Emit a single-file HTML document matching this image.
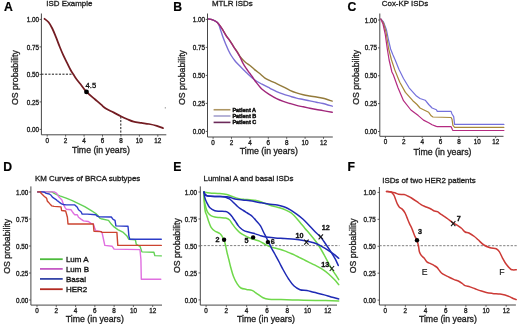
<!DOCTYPE html><html><head><meta charset="utf-8"><style>html,body{margin:0;padding:0;background:#fff;}svg{display:block;will-change:transform;}text{font-family:"Liberation Sans", sans-serif;}</style></head><body>
<svg width="520" height="324" viewBox="0 0 520 324">
<rect width="520" height="324" fill="#fff"/>
<text x="4.10" y="10.60" font-size="12.20" text-anchor="start" font-weight="bold" fill="#000" stroke="#000" stroke-width="0.20" >A</text>
<text x="46.30" y="6.10" font-size="7.90" text-anchor="start" font-weight="normal" fill="#222" stroke="#222" stroke-width="0.32" >ISD Example</text>
<path d="M41.40 13.50 V134.80 H166.30" fill="none" stroke="#474747" stroke-width="1"/>
<line x1="39.60" y1="19.40" x2="41.40" y2="19.40" stroke="#474747" stroke-width="0.9"/>
<text x="39.00" y="22.00" font-size="6.30" text-anchor="end" font-weight="normal" fill="#222" stroke="#222" stroke-width="0.32" >1.00</text>
<line x1="39.60" y1="46.90" x2="41.40" y2="46.90" stroke="#474747" stroke-width="0.9"/>
<text x="39.00" y="49.50" font-size="6.30" text-anchor="end" font-weight="normal" fill="#222" stroke="#222" stroke-width="0.32" >0.75</text>
<line x1="39.60" y1="74.40" x2="41.40" y2="74.40" stroke="#474747" stroke-width="0.9"/>
<text x="39.00" y="77.00" font-size="6.30" text-anchor="end" font-weight="normal" fill="#222" stroke="#222" stroke-width="0.32" >0.50</text>
<line x1="39.60" y1="101.90" x2="41.40" y2="101.90" stroke="#474747" stroke-width="0.9"/>
<text x="39.00" y="104.50" font-size="6.30" text-anchor="end" font-weight="normal" fill="#222" stroke="#222" stroke-width="0.32" >0.25</text>
<line x1="39.60" y1="129.40" x2="41.40" y2="129.40" stroke="#474747" stroke-width="0.9"/>
<text x="39.00" y="132.00" font-size="6.30" text-anchor="end" font-weight="normal" fill="#222" stroke="#222" stroke-width="0.32" >0.00</text>
<line x1="47.20" y1="134.80" x2="47.20" y2="136.60" stroke="#474747" stroke-width="0.9"/>
<text x="47.20" y="142.70" font-size="6.30" text-anchor="middle" font-weight="normal" fill="#222" stroke="#222" stroke-width="0.32" >0</text>
<line x1="65.63" y1="134.80" x2="65.63" y2="136.60" stroke="#474747" stroke-width="0.9"/>
<text x="65.63" y="142.70" font-size="6.30" text-anchor="middle" font-weight="normal" fill="#222" stroke="#222" stroke-width="0.32" >2</text>
<line x1="84.07" y1="134.80" x2="84.07" y2="136.60" stroke="#474747" stroke-width="0.9"/>
<text x="84.07" y="142.70" font-size="6.30" text-anchor="middle" font-weight="normal" fill="#222" stroke="#222" stroke-width="0.32" >4</text>
<line x1="102.50" y1="134.80" x2="102.50" y2="136.60" stroke="#474747" stroke-width="0.9"/>
<text x="102.50" y="142.70" font-size="6.30" text-anchor="middle" font-weight="normal" fill="#222" stroke="#222" stroke-width="0.32" >6</text>
<line x1="120.93" y1="134.80" x2="120.93" y2="136.60" stroke="#474747" stroke-width="0.9"/>
<text x="120.93" y="142.70" font-size="6.30" text-anchor="middle" font-weight="normal" fill="#222" stroke="#222" stroke-width="0.32" >8</text>
<line x1="139.37" y1="134.80" x2="139.37" y2="136.60" stroke="#474747" stroke-width="0.9"/>
<text x="139.37" y="142.70" font-size="6.30" text-anchor="middle" font-weight="normal" fill="#222" stroke="#222" stroke-width="0.32" >10</text>
<line x1="157.80" y1="134.80" x2="157.80" y2="136.60" stroke="#474747" stroke-width="0.9"/>
<text x="157.80" y="142.70" font-size="6.30" text-anchor="middle" font-weight="normal" fill="#222" stroke="#222" stroke-width="0.32" >12</text>
<text x="100.90" y="152.90" font-size="8.75" text-anchor="middle" font-weight="normal" fill="#222" stroke="#222" stroke-width="0.32" >Time (in years)</text>
<text transform="translate(18.00 77.60) rotate(-90)" font-size="8.75" text-anchor="middle" fill="#222" stroke="#222" stroke-width="0.32">OS probability</text>
<line x1="41.4" y1="74.2" x2="72" y2="74.2" stroke="#111" stroke-width="0.95" stroke-dasharray="2.1 1.4"/>
<line x1="120.8" y1="116.5" x2="120.8" y2="134.8" stroke="#111" stroke-width="0.95" stroke-dasharray="2.1 1.4"/>
<path d="M44.50 18.80 C45.18 19.38 47.30 20.68 48.60 22.30 C49.90 23.92 51.07 26.02 52.30 28.50 C53.53 30.98 54.75 34.12 56.00 37.20 C57.25 40.28 58.55 43.92 59.80 47.00 C61.05 50.08 62.27 53.02 63.50 55.70 C64.73 58.38 65.97 60.63 67.20 63.10 C68.43 65.57 69.88 68.65 70.90 70.50 C71.92 72.35 72.45 72.87 73.30 74.20 C74.15 75.53 74.82 76.87 76.00 78.50 C77.18 80.13 78.65 81.77 80.40 84.00 C82.15 86.23 84.03 89.32 86.50 91.90 C88.97 94.48 92.75 97.37 95.20 99.50 C97.65 101.63 99.43 103.20 101.20 104.70 C102.97 106.20 103.75 107.22 105.80 108.50 C107.85 109.78 111.00 111.10 113.50 112.40 C116.00 113.70 118.48 115.15 120.80 116.30 C123.12 117.45 125.27 118.40 127.40 119.30 C129.53 120.20 131.28 121.10 133.60 121.70 C135.92 122.30 138.73 122.52 141.30 122.90 C143.87 123.28 146.42 123.52 149.00 124.00 C151.58 124.48 154.47 125.12 156.80 125.80 C159.13 126.48 161.97 127.72 163.00 128.10" fill="none" stroke="#731c22" stroke-width="1.75" stroke-linejoin="round" stroke-linecap="round" />
<circle cx="86.5" cy="91.9" r="2.4" fill="#000"/>
<text x="85.60" y="87.90" font-size="7.60" text-anchor="start" font-weight="normal" fill="#111" stroke="#111" stroke-width="0.32" >4.5</text>
<line x1="165.3" y1="107.0" x2="165.3" y2="108.6" stroke="#777" stroke-width="0.7"/>
<text x="173.30" y="10.60" font-size="12.20" text-anchor="start" font-weight="bold" fill="#000" stroke="#000" stroke-width="0.20" >B</text>
<text x="211.90" y="6.20" font-size="7.90" text-anchor="start" font-weight="normal" fill="#222" stroke="#222" stroke-width="0.32" >MTLR ISDs</text>
<path d="M207.50 13.50 V137.00 H332.80" fill="none" stroke="#474747" stroke-width="1"/>
<line x1="205.70" y1="19.40" x2="207.50" y2="19.40" stroke="#474747" stroke-width="0.9"/>
<text x="205.10" y="22.00" font-size="6.30" text-anchor="end" font-weight="normal" fill="#222" stroke="#222" stroke-width="0.32" >1.00</text>
<line x1="205.70" y1="47.40" x2="207.50" y2="47.40" stroke="#474747" stroke-width="0.9"/>
<text x="205.10" y="50.00" font-size="6.30" text-anchor="end" font-weight="normal" fill="#222" stroke="#222" stroke-width="0.32" >0.75</text>
<line x1="205.70" y1="75.40" x2="207.50" y2="75.40" stroke="#474747" stroke-width="0.9"/>
<text x="205.10" y="78.00" font-size="6.30" text-anchor="end" font-weight="normal" fill="#222" stroke="#222" stroke-width="0.32" >0.50</text>
<line x1="205.70" y1="103.40" x2="207.50" y2="103.40" stroke="#474747" stroke-width="0.9"/>
<text x="205.10" y="106.00" font-size="6.30" text-anchor="end" font-weight="normal" fill="#222" stroke="#222" stroke-width="0.32" >0.25</text>
<line x1="205.70" y1="131.40" x2="207.50" y2="131.40" stroke="#474747" stroke-width="0.9"/>
<text x="205.10" y="134.00" font-size="6.30" text-anchor="end" font-weight="normal" fill="#222" stroke="#222" stroke-width="0.32" >0.00</text>
<line x1="213.10" y1="137.00" x2="213.10" y2="138.80" stroke="#474747" stroke-width="0.9"/>
<text x="213.10" y="144.70" font-size="6.30" text-anchor="middle" font-weight="normal" fill="#222" stroke="#222" stroke-width="0.32" >0</text>
<line x1="231.50" y1="137.00" x2="231.50" y2="138.80" stroke="#474747" stroke-width="0.9"/>
<text x="231.50" y="144.70" font-size="6.30" text-anchor="middle" font-weight="normal" fill="#222" stroke="#222" stroke-width="0.32" >2</text>
<line x1="249.90" y1="137.00" x2="249.90" y2="138.80" stroke="#474747" stroke-width="0.9"/>
<text x="249.90" y="144.70" font-size="6.30" text-anchor="middle" font-weight="normal" fill="#222" stroke="#222" stroke-width="0.32" >4</text>
<line x1="268.30" y1="137.00" x2="268.30" y2="138.80" stroke="#474747" stroke-width="0.9"/>
<text x="268.30" y="144.70" font-size="6.30" text-anchor="middle" font-weight="normal" fill="#222" stroke="#222" stroke-width="0.32" >6</text>
<line x1="286.70" y1="137.00" x2="286.70" y2="138.80" stroke="#474747" stroke-width="0.9"/>
<text x="286.70" y="144.70" font-size="6.30" text-anchor="middle" font-weight="normal" fill="#222" stroke="#222" stroke-width="0.32" >8</text>
<line x1="305.10" y1="137.00" x2="305.10" y2="138.80" stroke="#474747" stroke-width="0.9"/>
<text x="305.10" y="144.70" font-size="6.30" text-anchor="middle" font-weight="normal" fill="#222" stroke="#222" stroke-width="0.32" >10</text>
<line x1="323.50" y1="137.00" x2="323.50" y2="138.80" stroke="#474747" stroke-width="0.9"/>
<text x="323.50" y="144.70" font-size="6.30" text-anchor="middle" font-weight="normal" fill="#222" stroke="#222" stroke-width="0.32" >12</text>
<text x="268.80" y="154.30" font-size="8.75" text-anchor="middle" font-weight="normal" fill="#222" stroke="#222" stroke-width="0.32" >Time (in years)</text>
<text transform="translate(185.00 77.50) rotate(-90)" font-size="8.75" text-anchor="middle" fill="#222" stroke="#222" stroke-width="0.32">OS probability</text>
<path d="M208.70 19.00 C209.25 19.10 210.78 19.18 212.00 19.60 C213.22 20.02 214.90 20.77 216.00 21.50 C217.10 22.23 217.55 22.72 218.60 24.00 C219.65 25.28 221.07 27.32 222.30 29.20 C223.53 31.08 224.77 33.43 226.00 35.30 C227.23 37.17 228.45 38.57 229.70 40.40 C230.95 42.23 232.20 44.33 233.50 46.30 C234.80 48.27 236.35 50.42 237.50 52.20 C238.65 53.98 239.48 55.72 240.40 57.00 C241.32 58.28 242.07 58.93 243.00 59.90 C243.93 60.87 244.90 61.92 246.00 62.80 C247.10 63.68 248.17 64.07 249.60 65.20 C251.03 66.33 252.73 68.05 254.60 69.60 C256.47 71.15 259.13 73.13 260.80 74.50 C262.47 75.87 263.07 76.78 264.60 77.80 C266.13 78.82 268.00 79.63 270.00 80.60 C272.00 81.57 274.38 82.55 276.60 83.60 C278.82 84.65 281.08 85.78 283.30 86.90 C285.52 88.02 287.70 89.30 289.90 90.30 C292.10 91.30 294.28 92.15 296.50 92.90 C298.72 93.65 300.98 94.28 303.20 94.80 C305.42 95.32 307.60 95.63 309.80 96.00 C312.00 96.37 314.20 96.62 316.40 97.00 C318.60 97.38 320.37 97.62 323.00 98.30 C325.63 98.98 330.67 100.63 332.20 101.10" fill="none" stroke="#937a3a" stroke-width="1.40" stroke-linejoin="round" stroke-linecap="round" />
<path d="M208.70 19.00 C209.25 19.10 210.78 19.18 212.00 19.60 C213.22 20.02 214.90 20.72 216.00 21.50 C217.10 22.28 217.77 22.67 218.60 24.30 C219.43 25.93 220.18 28.92 221.00 31.30 C221.82 33.68 222.67 36.35 223.50 38.60 C224.33 40.85 225.17 42.82 226.00 44.80 C226.83 46.78 227.63 48.72 228.50 50.50 C229.37 52.28 230.13 53.80 231.20 55.50 C232.27 57.20 233.67 59.15 234.90 60.70 C236.13 62.25 237.33 63.45 238.60 64.80 C239.87 66.15 241.27 67.57 242.50 68.80 C243.73 70.03 244.12 70.47 246.00 72.20 C247.88 73.93 251.13 77.20 253.80 79.20 C256.47 81.20 259.30 82.68 262.00 84.20 C264.70 85.72 267.57 87.07 270.00 88.30 C272.43 89.53 274.38 90.62 276.60 91.60 C278.82 92.58 281.08 93.43 283.30 94.20 C285.52 94.97 287.70 95.55 289.90 96.20 C292.10 96.85 294.28 97.55 296.50 98.10 C298.72 98.65 300.98 99.03 303.20 99.50 C305.42 99.97 307.60 100.45 309.80 100.90 C312.00 101.35 314.20 101.77 316.40 102.20 C318.60 102.63 320.37 102.83 323.00 103.50 C325.63 104.17 330.67 105.75 332.20 106.20" fill="none" stroke="#7c70d6" stroke-width="1.40" stroke-linejoin="round" stroke-linecap="round" />
<path d="M208.70 19.00 C209.25 19.10 210.78 19.18 212.00 19.60 C213.22 20.02 214.90 20.77 216.00 21.50 C217.10 22.23 217.55 22.72 218.60 24.00 C219.65 25.28 221.07 27.28 222.30 29.20 C223.53 31.12 224.77 33.60 226.00 35.50 C227.23 37.40 228.45 38.75 229.70 40.60 C230.95 42.45 232.23 44.62 233.50 46.60 C234.77 48.58 236.18 50.70 237.30 52.50 C238.42 54.30 239.27 55.62 240.20 57.40 C241.13 59.18 241.93 61.40 242.90 63.20 C243.87 65.00 244.87 66.53 246.00 68.20 C247.13 69.87 248.62 71.73 249.70 73.20 C250.78 74.67 251.47 75.53 252.50 77.00 C253.53 78.47 254.25 79.90 255.90 82.00 C257.55 84.10 260.05 87.45 262.40 89.60 C264.75 91.75 267.63 93.40 270.00 94.90 C272.37 96.40 274.38 97.52 276.60 98.60 C278.82 99.68 281.08 100.58 283.30 101.40 C285.52 102.22 287.70 102.83 289.90 103.50 C292.10 104.17 294.28 104.85 296.50 105.40 C298.72 105.95 300.98 106.33 303.20 106.80 C305.42 107.27 307.60 107.75 309.80 108.20 C312.00 108.65 314.20 109.10 316.40 109.50 C318.60 109.90 320.37 110.13 323.00 110.60 C325.63 111.07 330.67 112.02 332.20 112.30" fill="none" stroke="#a0267a" stroke-width="1.40" stroke-linejoin="round" stroke-linecap="round" />
<line x1="213.6" y1="109.75" x2="230.5" y2="109.75" stroke="#ae9663" stroke-width="1.6"/>
<text x="232.40" y="111.75" font-size="5.50" text-anchor="start" font-weight="bold" fill="#111" stroke="#111" stroke-width="0.45" >Patient A</text>
<line x1="213.6" y1="116.00" x2="230.5" y2="116.00" stroke="#a4a1cf" stroke-width="1.6"/>
<text x="232.40" y="118.00" font-size="5.50" text-anchor="start" font-weight="bold" fill="#111" stroke="#111" stroke-width="0.45" >Patient B</text>
<line x1="213.6" y1="122.40" x2="230.5" y2="122.40" stroke="#6c2a5a" stroke-width="1.6"/>
<text x="232.40" y="124.40" font-size="5.50" text-anchor="start" font-weight="bold" fill="#111" stroke="#111" stroke-width="0.45" >Patient C</text>
<text x="347.50" y="10.60" font-size="12.20" text-anchor="start" font-weight="bold" fill="#000" stroke="#000" stroke-width="0.20" >C</text>
<text x="381.80" y="6.30" font-size="7.90" text-anchor="start" font-weight="normal" fill="#222" stroke="#222" stroke-width="0.32" >Cox-KP ISDs</text>
<path d="M379.80 13.50 V136.30 H503.50" fill="none" stroke="#474747" stroke-width="1"/>
<line x1="378.00" y1="20.00" x2="379.80" y2="20.00" stroke="#474747" stroke-width="0.9"/>
<text x="376.90" y="22.60" font-size="6.30" text-anchor="end" font-weight="normal" fill="#222" stroke="#222" stroke-width="0.32" >1.00</text>
<line x1="378.00" y1="47.88" x2="379.80" y2="47.88" stroke="#474747" stroke-width="0.9"/>
<text x="376.90" y="50.48" font-size="6.30" text-anchor="end" font-weight="normal" fill="#222" stroke="#222" stroke-width="0.32" >0.75</text>
<line x1="378.00" y1="75.75" x2="379.80" y2="75.75" stroke="#474747" stroke-width="0.9"/>
<text x="376.90" y="78.35" font-size="6.30" text-anchor="end" font-weight="normal" fill="#222" stroke="#222" stroke-width="0.32" >0.50</text>
<line x1="378.00" y1="103.62" x2="379.80" y2="103.62" stroke="#474747" stroke-width="0.9"/>
<text x="376.90" y="106.22" font-size="6.30" text-anchor="end" font-weight="normal" fill="#222" stroke="#222" stroke-width="0.32" >0.25</text>
<line x1="378.00" y1="131.50" x2="379.80" y2="131.50" stroke="#474747" stroke-width="0.9"/>
<text x="376.90" y="134.10" font-size="6.30" text-anchor="end" font-weight="normal" fill="#222" stroke="#222" stroke-width="0.32" >0.00</text>
<line x1="385.40" y1="136.30" x2="385.40" y2="138.10" stroke="#474747" stroke-width="0.9"/>
<text x="385.40" y="144.30" font-size="6.30" text-anchor="middle" font-weight="normal" fill="#222" stroke="#222" stroke-width="0.32" >0</text>
<line x1="403.78" y1="136.30" x2="403.78" y2="138.10" stroke="#474747" stroke-width="0.9"/>
<text x="403.78" y="144.30" font-size="6.30" text-anchor="middle" font-weight="normal" fill="#222" stroke="#222" stroke-width="0.32" >2</text>
<line x1="422.17" y1="136.30" x2="422.17" y2="138.10" stroke="#474747" stroke-width="0.9"/>
<text x="422.17" y="144.30" font-size="6.30" text-anchor="middle" font-weight="normal" fill="#222" stroke="#222" stroke-width="0.32" >4</text>
<line x1="440.55" y1="136.30" x2="440.55" y2="138.10" stroke="#474747" stroke-width="0.9"/>
<text x="440.55" y="144.30" font-size="6.30" text-anchor="middle" font-weight="normal" fill="#222" stroke="#222" stroke-width="0.32" >6</text>
<line x1="458.93" y1="136.30" x2="458.93" y2="138.10" stroke="#474747" stroke-width="0.9"/>
<text x="458.93" y="144.30" font-size="6.30" text-anchor="middle" font-weight="normal" fill="#222" stroke="#222" stroke-width="0.32" >8</text>
<line x1="477.32" y1="136.30" x2="477.32" y2="138.10" stroke="#474747" stroke-width="0.9"/>
<text x="477.32" y="144.30" font-size="6.30" text-anchor="middle" font-weight="normal" fill="#222" stroke="#222" stroke-width="0.32" >10</text>
<line x1="495.70" y1="136.30" x2="495.70" y2="138.10" stroke="#474747" stroke-width="0.9"/>
<text x="495.70" y="144.30" font-size="6.30" text-anchor="middle" font-weight="normal" fill="#222" stroke="#222" stroke-width="0.32" >12</text>
<text x="442.50" y="154.60" font-size="8.75" text-anchor="middle" font-weight="normal" fill="#222" stroke="#222" stroke-width="0.32" >Time (in years)</text>
<text transform="translate(359.00 77.30) rotate(-90)" font-size="8.75" text-anchor="middle" fill="#222" stroke="#222" stroke-width="0.32">OS probability</text>
<path d="M380.80 19.00 L383.50 22.00 L386.50 30.00 L388.50 40.00 L390.60 49.00 L393.00 55.00 L395.20 60.00 L398.90 69.30 L403.50 78.50 L409.10 87.80 L416.50 96.10 L420.00 98.50 L425.20 100.20 L428.70 104.50 L432.10 108.00 L436.40 109.70 L437.30 111.40 L451.10 111.40 L452.00 114.00 L453.70 116.60 L454.60 124.40 L503.90 124.40" fill="none" stroke="#7470dc" stroke-width="1.20" stroke-linejoin="round" stroke-linecap="round" />
<path d="M380.80 19.00 L383.50 23.00 L386.00 32.00 L388.70 49.00 L391.50 60.00 L395.20 71.10 L399.80 82.20 L405.40 92.40 L412.80 100.70 L417.00 104.50 L420.00 108.00 L423.50 109.70 L428.70 112.30 L431.20 115.80 L433.00 117.00 L451.10 117.50 L452.00 119.20 L452.90 125.30 L454.60 127.30 L503.90 127.30" fill="none" stroke="#a8893a" stroke-width="1.20" stroke-linejoin="round" stroke-linecap="round" />
<path d="M380.80 19.00 L383.00 24.00 L385.20 34.00 L387.30 49.00 L389.10 60.00 L391.90 72.00 L393.30 74.80 L398.00 87.80 L403.50 100.70 L410.90 110.00 L418.30 115.60 L423.50 120.10 L428.70 122.70 L432.10 124.80 L435.60 126.10 L437.30 126.70 L451.10 126.70 L452.40 129.60 L452.90 130.50 L503.90 130.50" fill="none" stroke="#b42a80" stroke-width="1.20" stroke-linejoin="round" stroke-linecap="round" />
<text x="3.20" y="171.40" font-size="12.20" text-anchor="start" font-weight="bold" fill="#000" stroke="#000" stroke-width="0.20" >D</text>
<text x="35.00" y="181.00" font-size="7.90" text-anchor="start" font-weight="normal" fill="#222" stroke="#222" stroke-width="0.32" >KM Curves of BRCA subtypes</text>
<path d="M30.90 186.40 V305.10 H162.00" fill="none" stroke="#474747" stroke-width="1"/>
<line x1="29.10" y1="192.00" x2="30.90" y2="192.00" stroke="#474747" stroke-width="0.9"/>
<text x="28.20" y="194.60" font-size="6.30" text-anchor="end" font-weight="normal" fill="#222" stroke="#222" stroke-width="0.32" >1.00</text>
<line x1="29.10" y1="219.00" x2="30.90" y2="219.00" stroke="#474747" stroke-width="0.9"/>
<text x="28.20" y="221.60" font-size="6.30" text-anchor="end" font-weight="normal" fill="#222" stroke="#222" stroke-width="0.32" >0.75</text>
<line x1="29.10" y1="246.00" x2="30.90" y2="246.00" stroke="#474747" stroke-width="0.9"/>
<text x="28.20" y="248.60" font-size="6.30" text-anchor="end" font-weight="normal" fill="#222" stroke="#222" stroke-width="0.32" >0.50</text>
<line x1="29.10" y1="273.00" x2="30.90" y2="273.00" stroke="#474747" stroke-width="0.9"/>
<text x="28.20" y="275.60" font-size="6.30" text-anchor="end" font-weight="normal" fill="#222" stroke="#222" stroke-width="0.32" >0.25</text>
<line x1="29.10" y1="300.00" x2="30.90" y2="300.00" stroke="#474747" stroke-width="0.9"/>
<text x="28.20" y="302.60" font-size="6.30" text-anchor="end" font-weight="normal" fill="#222" stroke="#222" stroke-width="0.32" >0.00</text>
<line x1="37.00" y1="305.10" x2="37.00" y2="306.90" stroke="#474747" stroke-width="0.9"/>
<text x="37.00" y="313.00" font-size="6.30" text-anchor="middle" font-weight="normal" fill="#222" stroke="#222" stroke-width="0.32" >0</text>
<line x1="56.28" y1="305.10" x2="56.28" y2="306.90" stroke="#474747" stroke-width="0.9"/>
<text x="56.28" y="313.00" font-size="6.30" text-anchor="middle" font-weight="normal" fill="#222" stroke="#222" stroke-width="0.32" >2</text>
<line x1="75.57" y1="305.10" x2="75.57" y2="306.90" stroke="#474747" stroke-width="0.9"/>
<text x="75.57" y="313.00" font-size="6.30" text-anchor="middle" font-weight="normal" fill="#222" stroke="#222" stroke-width="0.32" >4</text>
<line x1="94.85" y1="305.10" x2="94.85" y2="306.90" stroke="#474747" stroke-width="0.9"/>
<text x="94.85" y="313.00" font-size="6.30" text-anchor="middle" font-weight="normal" fill="#222" stroke="#222" stroke-width="0.32" >6</text>
<line x1="114.13" y1="305.10" x2="114.13" y2="306.90" stroke="#474747" stroke-width="0.9"/>
<text x="114.13" y="313.00" font-size="6.30" text-anchor="middle" font-weight="normal" fill="#222" stroke="#222" stroke-width="0.32" >8</text>
<line x1="133.42" y1="305.10" x2="133.42" y2="306.90" stroke="#474747" stroke-width="0.9"/>
<text x="133.42" y="313.00" font-size="6.30" text-anchor="middle" font-weight="normal" fill="#222" stroke="#222" stroke-width="0.32" >10</text>
<line x1="152.70" y1="305.10" x2="152.70" y2="306.90" stroke="#474747" stroke-width="0.9"/>
<text x="152.70" y="313.00" font-size="6.30" text-anchor="middle" font-weight="normal" fill="#222" stroke="#222" stroke-width="0.32" >12</text>
<text x="94.80" y="322.20" font-size="8.75" text-anchor="middle" font-weight="normal" fill="#222" stroke="#222" stroke-width="0.32" >Time (in years)</text>
<text transform="translate(10.30 246.30) rotate(-90)" font-size="8.75" text-anchor="middle" fill="#222" stroke="#222" stroke-width="0.32">OS probability</text>
<path d="M37.80 191.90 L51.80 191.90 L54.20 193.40 L56.70 194.60 L59.80 195.90 L66.20 198.10 L72.30 200.60 L78.50 203.60 L84.70 206.70 L90.90 210.40 L95.80 213.50 L98.30 216.00 L100.00 218.30 L101.10 218.70 L108.50 220.40 L111.30 224.10 L114.10 226.90 L117.80 229.60 L123.30 232.40 L127.00 236.10 L128.90 239.30 L135.40 239.80 L136.30 244.40 L140.00 246.30 L141.90 251.90 L153.90 252.20 L154.80 255.60 L161.30 255.90" fill="none" stroke="#62d155" stroke-width="1.40" stroke-linejoin="round" stroke-linecap="round" />
<path d="M37.80 191.90 L54.20 191.90 L56.70 193.40 L58.50 196.50 L60.00 198.10 L61.90 199.90 L63.70 204.90 L64.90 207.30 L66.20 209.20 L71.10 209.80 L72.30 211.70 L73.60 213.50 L74.80 214.80 L77.30 214.80 L78.50 217.20 L81.00 219.10 L83.50 220.90 L88.40 221.50 L90.90 223.40 L93.30 224.00 L94.60 227.70 L95.80 230.80 L100.00 231.40 L102.00 232.40 L103.00 237.00 L104.80 245.40 L112.20 246.30 L114.10 249.10 L140.00 249.60 L140.90 259.30 L141.30 279.30 L160.80 279.30" fill="none" stroke="#e06fe0" stroke-width="1.40" stroke-linejoin="round" stroke-linecap="round" />
<path d="M37.80 191.90 L43.00 191.90 L44.30 192.20 L46.20 193.40 L49.30 194.00 L51.10 195.30 L52.40 197.10 L54.20 198.30 L56.10 199.60 L57.30 200.80 L58.50 201.40 L59.80 202.70 L61.60 203.80 L63.50 204.50 L66.20 204.90 L74.80 204.90 L77.30 207.30 L78.50 209.80 L81.00 211.70 L82.20 214.10 L87.20 214.10 L95.80 214.80 L97.00 216.00 L99.30 216.90 L111.30 217.00 L113.10 219.40 L115.00 220.40 L115.90 225.90 L128.00 226.30 L128.90 236.10 L129.80 239.30 L161.30 239.30" fill="none" stroke="#2c3cc8" stroke-width="1.40" stroke-linejoin="round" stroke-linecap="round" />
<path d="M37.80 191.90 L40.60 191.90 L40.60 192.80 L41.90 194.00 L43.90 195.90 L45.60 197.40 L46.60 198.20 L47.30 201.00 L48.60 202.40 L50.50 204.60 L51.80 205.90 L54.10 206.40 L61.00 206.90 L61.60 210.50 L65.60 211.00 L66.20 212.90 L67.40 217.20 L68.00 224.00 L93.30 224.00 L94.00 231.30 L101.10 231.60 L102.00 232.40 L116.90 232.40 L117.80 245.40 L161.30 245.40" fill="none" stroke="#cc4430" stroke-width="1.40" stroke-linejoin="round" stroke-linecap="round" />
<line x1="40" y1="259.20" x2="62.7" y2="259.20" stroke="#4cbb3c" stroke-width="1.8"/>
<text x="65.90" y="262.10" font-size="8.00" text-anchor="start" font-weight="normal" fill="#111" stroke="#111" stroke-width="0.32" >Lum A</text>
<line x1="40" y1="268.90" x2="62.7" y2="268.90" stroke="#c55ac5" stroke-width="1.8"/>
<text x="65.90" y="271.80" font-size="8.00" text-anchor="start" font-weight="normal" fill="#111" stroke="#111" stroke-width="0.32" >Lum B</text>
<line x1="40" y1="278.90" x2="62.7" y2="278.90" stroke="#3545a8" stroke-width="1.8"/>
<text x="65.90" y="281.80" font-size="8.00" text-anchor="start" font-weight="normal" fill="#111" stroke="#111" stroke-width="0.32" >Basal</text>
<line x1="40" y1="289.20" x2="62.7" y2="289.20" stroke="#b32a22" stroke-width="1.8"/>
<text x="65.90" y="292.10" font-size="8.00" text-anchor="start" font-weight="normal" fill="#111" stroke="#111" stroke-width="0.32" >HER2</text>
<text x="173.20" y="171.40" font-size="12.20" text-anchor="start" font-weight="bold" fill="#000" stroke="#000" stroke-width="0.20" >E</text>
<text x="203.50" y="180.60" font-size="7.90" text-anchor="start" font-weight="normal" fill="#222" stroke="#222" stroke-width="0.32" >Luminal A and basal ISDs</text>
<path d="M200.30 186.40 V305.10 H337.00" fill="none" stroke="#474747" stroke-width="1"/>
<line x1="198.50" y1="192.00" x2="200.30" y2="192.00" stroke="#474747" stroke-width="0.9"/>
<text x="197.10" y="194.60" font-size="6.30" text-anchor="end" font-weight="normal" fill="#222" stroke="#222" stroke-width="0.32" >1.00</text>
<line x1="198.50" y1="218.97" x2="200.30" y2="218.97" stroke="#474747" stroke-width="0.9"/>
<text x="197.10" y="221.57" font-size="6.30" text-anchor="end" font-weight="normal" fill="#222" stroke="#222" stroke-width="0.32" >0.75</text>
<line x1="198.50" y1="245.95" x2="200.30" y2="245.95" stroke="#474747" stroke-width="0.9"/>
<text x="197.10" y="248.55" font-size="6.30" text-anchor="end" font-weight="normal" fill="#222" stroke="#222" stroke-width="0.32" >0.50</text>
<line x1="198.50" y1="272.92" x2="200.30" y2="272.92" stroke="#474747" stroke-width="0.9"/>
<text x="197.10" y="275.52" font-size="6.30" text-anchor="end" font-weight="normal" fill="#222" stroke="#222" stroke-width="0.32" >0.25</text>
<line x1="198.50" y1="299.90" x2="200.30" y2="299.90" stroke="#474747" stroke-width="0.9"/>
<text x="197.10" y="302.50" font-size="6.30" text-anchor="end" font-weight="normal" fill="#222" stroke="#222" stroke-width="0.32" >0.00</text>
<line x1="206.10" y1="305.10" x2="206.10" y2="306.90" stroke="#474747" stroke-width="0.9"/>
<text x="206.10" y="312.60" font-size="6.30" text-anchor="middle" font-weight="normal" fill="#222" stroke="#222" stroke-width="0.32" >0</text>
<line x1="226.37" y1="305.10" x2="226.37" y2="306.90" stroke="#474747" stroke-width="0.9"/>
<text x="226.37" y="312.60" font-size="6.30" text-anchor="middle" font-weight="normal" fill="#222" stroke="#222" stroke-width="0.32" >2</text>
<line x1="246.63" y1="305.10" x2="246.63" y2="306.90" stroke="#474747" stroke-width="0.9"/>
<text x="246.63" y="312.60" font-size="6.30" text-anchor="middle" font-weight="normal" fill="#222" stroke="#222" stroke-width="0.32" >4</text>
<line x1="266.90" y1="305.10" x2="266.90" y2="306.90" stroke="#474747" stroke-width="0.9"/>
<text x="266.90" y="312.60" font-size="6.30" text-anchor="middle" font-weight="normal" fill="#222" stroke="#222" stroke-width="0.32" >6</text>
<line x1="287.17" y1="305.10" x2="287.17" y2="306.90" stroke="#474747" stroke-width="0.9"/>
<text x="287.17" y="312.60" font-size="6.30" text-anchor="middle" font-weight="normal" fill="#222" stroke="#222" stroke-width="0.32" >8</text>
<line x1="307.43" y1="305.10" x2="307.43" y2="306.90" stroke="#474747" stroke-width="0.9"/>
<text x="307.43" y="312.60" font-size="6.30" text-anchor="middle" font-weight="normal" fill="#222" stroke="#222" stroke-width="0.32" >10</text>
<line x1="327.70" y1="305.10" x2="327.70" y2="306.90" stroke="#474747" stroke-width="0.9"/>
<text x="327.70" y="312.60" font-size="6.30" text-anchor="middle" font-weight="normal" fill="#222" stroke="#222" stroke-width="0.32" >12</text>
<text x="266.00" y="322.20" font-size="8.75" text-anchor="middle" font-weight="normal" fill="#222" stroke="#222" stroke-width="0.32" >Time (in years)</text>
<text transform="translate(180.30 245.60) rotate(-90)" font-size="8.75" text-anchor="middle" fill="#222" stroke="#222" stroke-width="0.32">OS probability</text>
<line x1="200.1" y1="245.6" x2="339.5" y2="245.6" stroke="#707070" stroke-width="0.9" stroke-dasharray="2.3 1.45"/>
<path d="M204.00 192.10 C204.98 192.23 207.27 192.65 209.90 192.90 C212.53 193.15 216.97 193.32 219.80 193.60 C222.63 193.88 224.95 194.17 226.90 194.60 C228.85 195.03 229.98 195.65 231.50 196.20 C233.02 196.75 234.58 197.45 236.00 197.90 C237.42 198.35 238.62 198.65 240.00 198.90 C241.38 199.15 242.63 199.25 244.30 199.40 C245.97 199.55 248.05 199.63 250.00 199.80 C251.95 199.97 254.00 200.00 256.00 200.40 C258.00 200.80 260.33 201.63 262.00 202.20 C263.67 202.77 264.67 203.30 266.00 203.80 C267.33 204.30 268.48 204.73 270.00 205.20 C271.52 205.67 273.52 206.17 275.10 206.60 C276.68 207.03 277.93 207.32 279.50 207.80 C281.07 208.28 282.62 208.70 284.50 209.50 C286.38 210.30 289.02 211.40 290.80 212.60 C292.58 213.80 293.68 215.10 295.20 216.70 C296.72 218.30 298.30 220.28 299.90 222.20 C301.50 224.12 303.15 226.23 304.80 228.20 C306.45 230.17 307.95 231.78 309.80 234.00 C311.65 236.22 314.07 239.00 315.90 241.50 C317.73 244.00 319.17 246.28 320.80 249.00 C322.43 251.72 324.05 254.75 325.70 257.80 C327.35 260.85 329.05 264.48 330.70 267.30 C332.35 270.12 334.27 272.65 335.60 274.70 C336.93 276.75 338.18 278.78 338.70 279.60" fill="none" stroke="#6fd84a" stroke-width="1.50" stroke-linejoin="round" stroke-linecap="round" />
<path d="M204.00 192.10 C204.07 193.55 204.08 198.18 204.40 200.80 C204.72 203.42 205.32 205.82 205.90 207.80 C206.48 209.78 207.07 211.38 207.90 212.70 C208.73 214.02 209.75 214.97 210.90 215.70 C212.05 216.43 213.32 216.78 214.80 217.10 C216.28 217.42 217.98 217.43 219.80 217.60 C221.62 217.77 224.07 217.70 225.70 218.10 C227.33 218.50 228.53 219.08 229.60 220.00 C230.67 220.92 231.07 222.17 232.10 223.60 C233.13 225.03 234.57 227.15 235.80 228.60 C237.03 230.05 238.07 231.17 239.50 232.30 C240.93 233.43 242.58 234.42 244.40 235.40 C246.22 236.38 248.62 237.47 250.40 238.20 C252.18 238.93 253.52 239.27 255.10 239.80 C256.68 240.33 258.08 240.57 259.90 241.40 C261.72 242.23 264.15 243.87 266.00 244.80 C267.85 245.73 269.50 246.45 271.00 247.00 C272.50 247.55 273.53 247.72 275.00 248.10 C276.47 248.48 278.20 248.83 279.80 249.30 C281.40 249.77 282.98 250.30 284.60 250.90 C286.22 251.50 287.88 252.23 289.50 252.90 C291.12 253.57 292.70 254.17 294.30 254.90 C295.90 255.63 297.50 256.50 299.10 257.30 C300.70 258.10 302.30 258.90 303.90 259.70 C305.50 260.50 306.85 261.18 308.70 262.10 C310.55 263.02 312.57 263.92 315.00 265.20 C317.43 266.48 320.90 268.22 323.30 269.80 C325.70 271.38 327.55 273.07 329.40 274.70 C331.25 276.33 332.85 277.95 334.40 279.60 C335.95 281.25 337.98 283.77 338.70 284.60" fill="none" stroke="#6fd84a" stroke-width="1.50" stroke-linejoin="round" stroke-linecap="round" />
<path d="M204.00 192.10 C204.05 193.92 204.08 199.77 204.30 203.00 C204.52 206.23 204.88 209.42 205.30 211.50 C205.72 213.58 206.25 213.88 206.80 215.50 C207.35 217.12 207.88 219.23 208.60 221.20 C209.32 223.17 210.07 225.67 211.10 227.30 C212.13 228.93 213.35 229.97 214.80 231.00 C216.25 232.03 218.57 232.57 219.80 233.50 C221.03 234.43 221.43 235.35 222.20 236.60 C222.97 237.85 223.78 239.25 224.40 241.00 C225.02 242.75 225.47 245.20 225.90 247.10 C226.33 249.00 226.50 250.28 227.00 252.40 C227.50 254.52 228.28 257.33 228.90 259.80 C229.52 262.27 229.93 264.42 230.70 267.20 C231.47 269.98 232.42 273.72 233.50 276.50 C234.58 279.28 235.97 281.98 237.20 283.90 C238.43 285.82 239.35 287.08 240.90 288.00 C242.45 288.92 244.65 289.00 246.50 289.40 C248.35 289.80 250.15 289.62 252.00 290.40 C253.85 291.18 255.75 292.87 257.60 294.10 C259.45 295.33 261.25 296.93 263.10 297.80 C264.95 298.67 265.72 299.00 268.70 299.30 C271.68 299.60 276.07 299.47 281.00 299.60 C285.93 299.73 292.53 299.97 298.30 300.10 C304.07 300.23 308.87 300.27 315.60 300.40 C322.33 300.53 334.85 300.82 338.70 300.90" fill="none" stroke="#6fd84a" stroke-width="1.50" stroke-linejoin="round" stroke-linecap="round" />
<path d="M204.00 192.10 C204.23 192.57 204.75 194.27 205.40 194.90 C206.05 195.53 206.33 195.63 207.90 195.90 C209.47 196.17 212.78 196.42 214.80 196.50 C216.82 196.58 217.98 196.37 220.00 196.40 C222.02 196.43 224.98 196.45 226.90 196.70 C228.82 196.95 230.15 197.52 231.50 197.90 C232.85 198.28 233.83 198.72 235.00 199.00 C236.17 199.28 237.00 199.40 238.50 199.60 C240.00 199.80 242.08 200.02 244.00 200.20 C245.92 200.38 247.47 200.33 250.00 200.70 C252.53 201.07 256.13 201.85 259.20 202.40 C262.27 202.95 265.40 203.55 268.40 204.00 C271.40 204.45 274.50 204.60 277.20 205.10 C279.90 205.60 282.33 206.17 284.60 207.00 C286.87 207.83 288.73 208.87 290.80 210.10 C292.87 211.33 294.95 212.87 297.00 214.40 C299.05 215.93 301.18 217.58 303.10 219.30 C305.02 221.02 306.58 222.72 308.50 224.70 C310.42 226.68 312.55 229.10 314.60 231.20 C316.65 233.30 318.73 234.83 320.80 237.30 C322.87 239.77 325.15 243.32 327.00 246.00 C328.85 248.68 330.47 251.13 331.90 253.40 C333.33 255.67 334.53 257.58 335.60 259.60 C336.67 261.62 337.85 264.52 338.30 265.50" fill="none" stroke="#1e2ab5" stroke-width="1.50" stroke-linejoin="round" stroke-linecap="round" />
<path d="M204.00 192.10 C204.23 192.57 204.75 194.27 205.40 194.90 C206.05 195.53 206.33 195.63 207.90 195.90 C209.47 196.17 212.78 196.38 214.80 196.50 C216.82 196.62 218.38 196.52 220.00 196.60 C221.62 196.68 223.37 196.82 224.50 197.00 C225.63 197.18 226.07 197.42 226.80 197.70 C227.53 197.98 228.13 198.23 228.90 198.70 C229.67 199.17 230.48 199.72 231.40 200.50 C232.32 201.28 233.42 202.45 234.40 203.40 C235.38 204.35 236.32 205.33 237.30 206.20 C238.28 207.07 239.30 207.88 240.30 208.60 C241.30 209.32 242.32 209.88 243.30 210.50 C244.28 211.12 245.22 211.70 246.20 212.30 C247.18 212.90 248.22 213.45 249.20 214.10 C250.18 214.75 250.87 215.02 252.10 216.20 C253.33 217.38 255.20 219.58 256.60 221.20 C258.00 222.82 259.35 224.10 260.50 225.90 C261.65 227.70 262.60 230.20 263.50 232.00 C264.40 233.80 265.12 235.15 265.90 236.70 C266.68 238.25 267.25 239.37 268.20 241.30 C269.15 243.23 270.37 245.93 271.60 248.30 C272.83 250.67 274.30 253.13 275.60 255.50 C276.90 257.87 278.12 260.08 279.40 262.50 C280.68 264.92 281.77 267.25 283.30 270.00 C284.83 272.75 286.85 276.37 288.60 279.00 C290.35 281.63 291.90 284.02 293.80 285.80 C295.70 287.58 297.82 288.92 300.00 289.70 C302.18 290.48 304.60 290.07 306.90 290.50 C309.20 290.93 310.92 291.57 313.80 292.30 C316.68 293.03 321.32 294.12 324.20 294.90 C327.08 295.68 328.68 296.33 331.10 297.00 C333.52 297.67 337.43 298.58 338.70 298.90" fill="none" stroke="#1e2ab5" stroke-width="1.50" stroke-linejoin="round" stroke-linecap="round" />
<path d="M204.00 192.10 C204.15 193.07 204.42 196.12 204.90 197.90 C205.38 199.68 206.07 201.15 206.90 202.80 C207.73 204.45 208.58 206.48 209.90 207.80 C211.22 209.12 213.15 210.13 214.80 210.70 C216.45 211.27 217.98 211.05 219.80 211.20 C221.62 211.35 224.25 211.32 225.70 211.60 C227.15 211.88 227.62 212.30 228.50 212.90 C229.38 213.50 230.25 214.35 231.00 215.20 C231.75 216.05 232.28 217.00 233.00 218.00 C233.72 219.00 234.43 219.93 235.30 221.20 C236.17 222.47 237.35 224.47 238.20 225.60 C239.05 226.73 239.52 227.20 240.40 228.00 C241.28 228.80 242.35 229.77 243.50 230.40 C244.65 231.03 245.63 231.32 247.30 231.80 C248.97 232.28 251.43 232.70 253.50 233.30 C255.57 233.90 257.63 234.78 259.70 235.40 C261.77 236.02 263.33 236.58 265.90 237.00 C268.47 237.42 272.02 237.65 275.10 237.90 C278.18 238.15 281.10 238.28 284.40 238.50 C287.70 238.72 291.72 238.88 294.90 239.20 C298.08 239.52 301.03 239.98 303.50 240.40 C305.97 240.82 307.63 241.18 309.70 241.70 C311.77 242.22 313.85 242.68 315.90 243.50 C317.95 244.32 319.95 245.47 322.00 246.60 C324.05 247.73 326.13 248.97 328.20 250.30 C330.27 251.63 332.65 253.27 334.40 254.60 C336.15 255.93 337.98 257.68 338.70 258.30" fill="none" stroke="#1e2ab5" stroke-width="1.50" stroke-linejoin="round" stroke-linecap="round" />
<circle cx="224.1" cy="239.7" r="2.2" fill="#000"/>
<circle cx="253.1" cy="237.4" r="2.2" fill="#000"/>
<circle cx="267.9" cy="242.1" r="2.2" fill="#000"/>
<text x="215.60" y="242.40" font-size="7.20" text-anchor="start" font-weight="bold" fill="#111" stroke="#111" stroke-width="0.32" >2</text>
<text x="244.60" y="242.80" font-size="7.20" text-anchor="start" font-weight="bold" fill="#111" stroke="#111" stroke-width="0.32" >5</text>
<text x="270.80" y="244.30" font-size="7.20" text-anchor="start" font-weight="bold" fill="#111" stroke="#111" stroke-width="0.32" >6</text>
<text x="295.40" y="238.00" font-size="7.20" text-anchor="start" font-weight="bold" fill="#111" stroke="#111" stroke-width="0.32" >10</text>
<text x="321.80" y="230.00" font-size="7.20" text-anchor="start" font-weight="bold" fill="#111" stroke="#111" stroke-width="0.32" >12</text>
<text x="321.30" y="266.80" font-size="7.20" text-anchor="start" font-weight="bold" fill="#111" stroke="#111" stroke-width="0.32" >13</text>
<path d="M304.20 239.70 l4.4 5 M308.60 239.70 l-4.4 5" stroke="#1a1a1a" stroke-width="1.1"/>
<path d="M318.60 234.30 l4.4 5 M323.00 234.30 l-4.4 5" stroke="#1a1a1a" stroke-width="1.1"/>
<path d="M329.70 266.00 l4.4 5 M334.10 266.00 l-4.4 5" stroke="#1a1a1a" stroke-width="1.1"/>
<text x="347.60" y="171.40" font-size="12.20" text-anchor="start" font-weight="bold" fill="#000" stroke="#000" stroke-width="0.20" >F</text>
<text x="382.20" y="182.50" font-size="7.90" text-anchor="start" font-weight="normal" fill="#222" stroke="#222" stroke-width="0.32" >ISDs of two HER2 patients</text>
<path d="M379.40 187.00 V305.00 H515.90" fill="none" stroke="#474747" stroke-width="1"/>
<line x1="377.60" y1="192.40" x2="379.40" y2="192.40" stroke="#474747" stroke-width="0.9"/>
<text x="375.70" y="195.00" font-size="6.30" text-anchor="end" font-weight="normal" fill="#222" stroke="#222" stroke-width="0.32" >1.00</text>
<line x1="377.60" y1="219.33" x2="379.40" y2="219.33" stroke="#474747" stroke-width="0.9"/>
<text x="375.70" y="221.93" font-size="6.30" text-anchor="end" font-weight="normal" fill="#222" stroke="#222" stroke-width="0.32" >0.75</text>
<line x1="377.60" y1="246.25" x2="379.40" y2="246.25" stroke="#474747" stroke-width="0.9"/>
<text x="375.70" y="248.85" font-size="6.30" text-anchor="end" font-weight="normal" fill="#222" stroke="#222" stroke-width="0.32" >0.50</text>
<line x1="377.60" y1="273.18" x2="379.40" y2="273.18" stroke="#474747" stroke-width="0.9"/>
<text x="375.70" y="275.78" font-size="6.30" text-anchor="end" font-weight="normal" fill="#222" stroke="#222" stroke-width="0.32" >0.25</text>
<line x1="377.60" y1="300.10" x2="379.40" y2="300.10" stroke="#474747" stroke-width="0.9"/>
<text x="375.70" y="302.70" font-size="6.30" text-anchor="end" font-weight="normal" fill="#222" stroke="#222" stroke-width="0.32" >0.00</text>
<line x1="385.20" y1="305.00" x2="385.20" y2="306.80" stroke="#474747" stroke-width="0.9"/>
<text x="385.20" y="312.60" font-size="6.30" text-anchor="middle" font-weight="normal" fill="#222" stroke="#222" stroke-width="0.32" >0</text>
<line x1="405.37" y1="305.00" x2="405.37" y2="306.80" stroke="#474747" stroke-width="0.9"/>
<text x="405.37" y="312.60" font-size="6.30" text-anchor="middle" font-weight="normal" fill="#222" stroke="#222" stroke-width="0.32" >2</text>
<line x1="425.53" y1="305.00" x2="425.53" y2="306.80" stroke="#474747" stroke-width="0.9"/>
<text x="425.53" y="312.60" font-size="6.30" text-anchor="middle" font-weight="normal" fill="#222" stroke="#222" stroke-width="0.32" >4</text>
<line x1="445.70" y1="305.00" x2="445.70" y2="306.80" stroke="#474747" stroke-width="0.9"/>
<text x="445.70" y="312.60" font-size="6.30" text-anchor="middle" font-weight="normal" fill="#222" stroke="#222" stroke-width="0.32" >6</text>
<line x1="465.87" y1="305.00" x2="465.87" y2="306.80" stroke="#474747" stroke-width="0.9"/>
<text x="465.87" y="312.60" font-size="6.30" text-anchor="middle" font-weight="normal" fill="#222" stroke="#222" stroke-width="0.32" >8</text>
<line x1="486.03" y1="305.00" x2="486.03" y2="306.80" stroke="#474747" stroke-width="0.9"/>
<text x="486.03" y="312.60" font-size="6.30" text-anchor="middle" font-weight="normal" fill="#222" stroke="#222" stroke-width="0.32" >10</text>
<line x1="506.20" y1="305.00" x2="506.20" y2="306.80" stroke="#474747" stroke-width="0.9"/>
<text x="506.20" y="312.60" font-size="6.30" text-anchor="middle" font-weight="normal" fill="#222" stroke="#222" stroke-width="0.32" >12</text>
<text x="447.90" y="321.80" font-size="8.75" text-anchor="middle" font-weight="normal" fill="#222" stroke="#222" stroke-width="0.32" >Time (in years)</text>
<text transform="translate(356.00 245.80) rotate(-90)" font-size="8.75" text-anchor="middle" fill="#222" stroke="#222" stroke-width="0.32">OS probability</text>
<line x1="379.4" y1="245.7" x2="517.8" y2="245.7" stroke="#707070" stroke-width="0.9" stroke-dasharray="2.3 1.45"/>
<path d="M386.50 191.50 C387.27 191.58 389.72 191.78 391.10 192.00 C392.48 192.22 393.57 192.42 394.80 192.80 C396.03 193.18 396.95 194.00 398.50 194.30 C400.05 194.60 402.55 194.30 404.10 194.60 C405.65 194.90 406.57 195.53 407.80 196.10 C409.03 196.67 409.97 197.07 411.50 198.00 C413.03 198.93 415.47 200.63 417.00 201.70 C418.53 202.77 419.47 203.63 420.70 204.40 C421.93 205.17 422.85 205.62 424.40 206.30 C425.95 206.98 428.45 207.77 430.00 208.50 C431.55 209.23 432.47 210.17 433.70 210.70 C434.93 211.23 436.17 211.08 437.40 211.70 C438.63 212.32 439.55 213.33 441.10 214.40 C442.65 215.47 444.70 216.70 446.70 218.10 C448.70 219.50 451.25 221.55 453.10 222.80 C454.95 224.05 456.40 224.68 457.80 225.60 C459.20 226.52 460.27 227.23 461.50 228.30 C462.73 229.37 463.97 231.22 465.20 232.00 C466.43 232.78 467.37 232.25 468.90 233.00 C470.43 233.75 472.87 235.37 474.40 236.50 C475.93 237.63 476.52 238.38 478.10 239.80 C479.68 241.22 481.90 243.68 483.90 245.00 C485.90 246.32 488.05 247.07 490.10 247.70 C492.15 248.33 494.67 248.15 496.20 248.80 C497.73 249.45 498.27 250.10 499.30 251.60 C500.33 253.10 501.37 255.87 502.40 257.80 C503.43 259.73 504.22 261.40 505.50 263.20 C506.78 265.00 508.95 267.50 510.10 268.60 C511.25 269.70 511.37 269.60 512.40 269.80 C513.43 270.00 515.65 269.80 516.30 269.80" fill="none" stroke="#cc3a36" stroke-width="1.50" stroke-linejoin="round" stroke-linecap="round" />
<path d="M386.50 191.50 C387.27 191.58 389.87 191.38 391.10 192.00 C392.33 192.62 393.13 193.90 393.90 195.20 C394.67 196.50 395.08 198.27 395.70 199.80 C396.32 201.33 396.98 203.17 397.60 204.40 C398.22 205.63 398.63 206.42 399.40 207.20 C400.17 207.98 401.27 208.17 402.20 209.10 C403.13 210.03 404.22 211.42 405.00 212.80 C405.78 214.18 406.13 215.55 406.90 217.40 C407.67 219.25 408.83 222.20 409.60 223.90 C410.37 225.60 410.88 226.22 411.50 227.60 C412.12 228.98 412.68 230.65 413.30 232.20 C413.92 233.75 414.58 235.57 415.20 236.90 C415.82 238.23 416.45 238.67 417.00 240.20 C417.55 241.73 418.10 244.18 418.50 246.10 C418.90 248.02 418.93 250.15 419.40 251.70 C419.87 253.25 420.52 254.33 421.30 255.40 C422.08 256.47 423.17 257.02 424.10 258.10 C425.03 259.18 425.82 260.97 426.90 261.90 C427.98 262.83 429.37 263.08 430.60 263.70 C431.83 264.32 433.23 264.98 434.30 265.60 C435.37 266.22 436.08 266.48 437.00 267.40 C437.92 268.32 438.87 270.02 439.80 271.10 C440.73 272.18 441.22 272.97 442.60 273.90 C443.98 274.83 446.25 275.78 448.10 276.70 C449.95 277.62 451.93 278.64 453.70 279.40 C455.47 280.16 457.28 280.52 458.75 281.25 C460.22 281.98 461.46 283.02 462.50 283.75 C463.54 284.48 463.75 285.08 465.00 285.60 C466.25 286.12 468.33 286.38 470.00 286.90 C471.67 287.42 473.33 288.13 475.00 288.75 C476.67 289.37 478.12 289.98 480.00 290.60 C481.88 291.23 484.17 292.03 486.25 292.50 C488.33 292.97 490.21 293.15 492.50 293.40 C494.79 293.65 497.92 293.73 500.00 294.00 C502.08 294.27 503.33 294.52 505.00 295.00 C506.67 295.48 508.54 296.27 510.00 296.90 C511.46 297.52 512.71 298.30 513.75 298.75 C514.79 299.20 515.83 299.46 516.25 299.60" fill="none" stroke="#cc3a36" stroke-width="1.50" stroke-linejoin="round" stroke-linecap="round" />
<circle cx="417.0" cy="240.2" r="2.2" fill="#000"/>
<text x="418.00" y="234.20" font-size="7.20" text-anchor="start" font-weight="bold" fill="#111" stroke="#111" stroke-width="0.32" >3</text>
<path d="M451.0 221.2 l4.4 5 M455.4 221.2 l-4.4 5" stroke="#1a1a1a" stroke-width="1.1"/>
<text x="456.80" y="221.20" font-size="7.20" text-anchor="start" font-weight="bold" fill="#111" stroke="#111" stroke-width="0.32" >7</text>
<text x="421.80" y="275.20" font-size="8.70" text-anchor="start" font-weight="normal" fill="#222" stroke="#222" stroke-width="0.20" >E</text>
<text x="499.20" y="274.90" font-size="8.70" text-anchor="start" font-weight="normal" fill="#222" stroke="#222" stroke-width="0.20" >F</text>
</svg></body></html>
